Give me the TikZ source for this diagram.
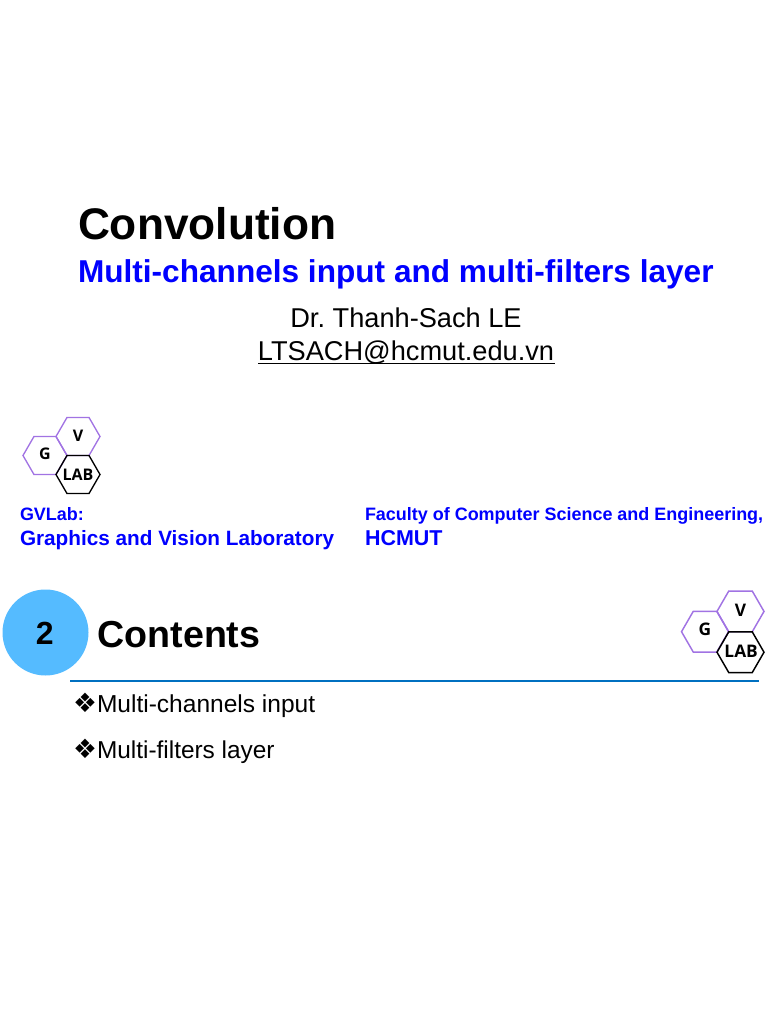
\documentclass[tikz,border=0pt]{standalone}
\usepackage{fontspec}
\setmainfont{Liberation Sans}
\newfontfamily\logofont{Open Sans}
\newfontfamily\symfont{DejaVu Sans}
\usetikzlibrary{shapes.geometric}
\frenchspacing
\definecolor{tblue}{HTML}{0000FF}
\definecolor{circ}{HTML}{55BBFF}
\definecolor{rulec}{HTML}{0070C0}
\definecolor{hexp}{HTML}{A173E3}
\tikzset{
  txt/.style={anchor=base west,inner sep=0pt,outer sep=0pt},
  hexs/.style={regular polygon,regular polygon sides=6,inner sep=0pt,minimum size=33pt,line width=1pt,font=\logofont\bfseries\fontsize{12}{14}\selectfont},
  hexl/.style={regular polygon,regular polygon sides=6,inner sep=0pt,minimum size=35.25pt,line width=1.1pt,font=\logofont\bfseries\fontsize{13}{15}\selectfont},
}
\newcommand{\fs}[1]{\fontsize{#1}{#1}\selectfont}
\newcommand{\zb}[2]{\raisebox{-#1}[0pt][0pt]{\makebox[0pt]{#2}}}
\begin{document}
\begin{tikzpicture}[x=0.75pt,y=-0.75pt]
\useasboundingbox (0,0) rectangle (768,1024);
\node[txt,font=\bfseries\fs{33.2}] (title) at (78,239.5) {Convolution};
\node[txt,font=\bfseries\fs{23.7},text=tblue] (sub) at (78,282) {Multi-channels input and multi-filters layer};
\node[anchor=base,inner sep=0pt,font=\fs{20.4}] (auth) at (406,327) {Dr. Thanh-Sach LE};
\node[anchor=base,inner sep=0pt,font=\fs{20.4}] (mail) at (406,360) {LTSACH@hcmut.edu.vn};
\coordinate (ula) at (258,363.5);
\coordinate (ulb) at (554.5,363.5);
\draw[line width=.9pt] (ula) -- (ulb);
% small logo
\node[hexs,draw=hexp] (g1) at (45,455.5) {\zb{3pt}{G}};
\node[hexs,draw=hexp] (v1) at (78,436.5) {\zb{3.4pt}{V}};
\node[hexs,draw=black] (l1) at (78,474.5) {\zb{4.3pt}{LAB}};
\node[txt,font=\bfseries\fs{13.47},text=tblue] (gv) at (20,520) {GVLab:};
\node[txt,font=\bfseries\fs{15.55},text=tblue] (gvl) at (20,545.5) {Graphics and Vision Laboratory};
\node[txt,font=\bfseries\fs{13.47},text=tblue] (fac) at (365,520) {Faculty of Computer Science and Engineering,};
\node[txt,font=\bfseries\fs{16.1},text=tblue] (hc) at (365,545.5) {HCMUT};
% slide 2
\node[circle,fill=circ,minimum size=64.5pt,inner sep=0pt,font=\bfseries\fs{24}] (num) at (45.5,632.5) {\zb{9.2pt}{\hspace{-1pt}2}};
\node[txt,font=\bfseries\fs{28.2}] (cont) at (97.5,647) {Contents};
\coordinate (ra) at (70,681);
\coordinate (rb) at (759,681);
\draw[rulec,line width=1.35pt] (ra) -- (rb);
\node[hexl,draw=hexp] (g2) at (705,631.7) {\zb{3pt}{G}};
\node[hexl,draw=hexp] (v2) at (740.5,611.4) {\zb{3.6pt}{V}};
\node[hexl,draw=black] (l2) at (740.5,652.2) {\zb{4pt}{\hspace{1pt}LAB}};
\node[txt,font=\symfont\fs{20}] (b1) at (73,712) {❖};
\node[txt,font=\fs{18.4}] (i1) at (97,712) {Multi-channels input};
\node[txt,font=\symfont\fs{20}] (b2) at (73,758) {❖};
\node[txt,font=\fs{18.3}] (i2) at (97,758.5) {Multi-filters layer};
\end{tikzpicture}
\end{document}
